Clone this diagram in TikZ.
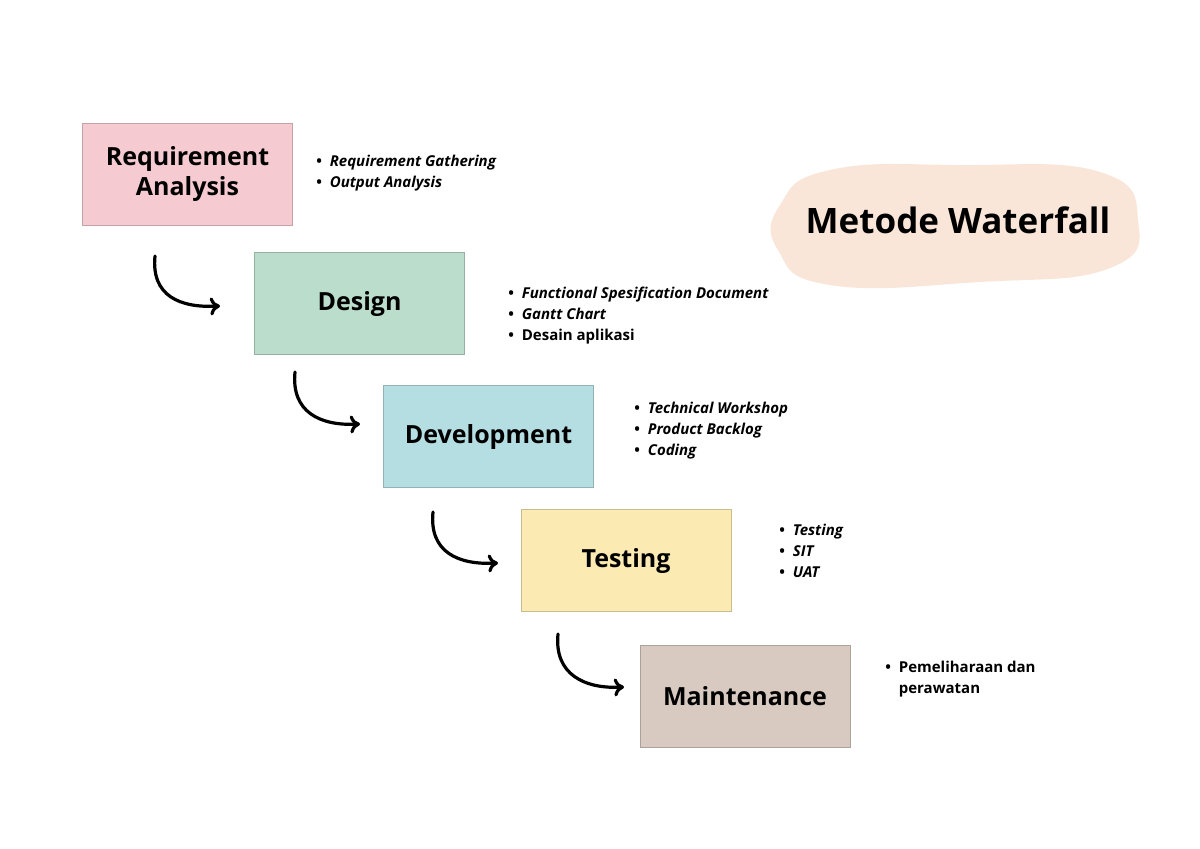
\documentclass[tikz,border=0pt]{standalone}
\usepackage{fontspec}
\setmainfont{Open Sans}
\usetikzlibrary{arrows.meta,shapes,positioning}
\definecolor{reqcol}{HTML}{F5CBD1}
\definecolor{descol}{HTML}{BBDDCB}
\definecolor{devcol}{HTML}{B5DEE3}
\definecolor{tstcol}{HTML}{FBEBB2}
\definecolor{mntcol}{HTML}{D8CAC0}
\definecolor{blobcol}{HTML}{F9E6D8}
\begin{document}
\begin{tikzpicture}[x=0.5pt,y=-0.5pt,
  phase/.style={draw=#1!80!black,fill=#1,line width=0.3pt,minimum width=105pt,minimum height=51pt,
    font=\fontsize{12.5}{15}\selectfont\bfseries,align=center,inner sep=0pt},
  items/.style={anchor=north west,align=left,font=\fontsize{7.5}{10.5}\selectfont\bfseries,inner sep=0pt},
  flow/.style={line width=1.6pt,line cap=round,-{To[length=5pt,width=9pt]}}]
  \useasboundingbox[fill=white] (0,0) rectangle (1200,848);
  % Background blob
  \fill[blobcol] plot[smooth cycle,tension=0.8] coordinates {(780,205) (830,170) (960,165) (1100,172) (1138,220) (1110,268) (980,282) (830,285) (778,250)};
  \node[font=\fontsize{17.5}{20}\selectfont\bfseries] (title) at (958,220) {Metode Waterfall};
  % Nodes: phases
  \node[phase=reqcol] (req) at (187.5,174) {Requirement\\Analysis};
  \node[phase=descol] (des) at (359.5,303.5) {Design};
  \node[phase=devcol] (dev) at (488.5,436.5) {Development};
  \node[phase=tstcol] (tst) at (626,560.5) {Testing};
  \node[phase=mntcol] (mnt) at (745,696) {Maintenance};
  % Nodes: item lists
  \node[items] (reqi) at (316,155) {\textbullet\ \ \textit{Requirement Gathering}\\\textbullet\ \ \textit{Output Analysis}};
  \node[items] (desi) at (508,287) {\textbullet\ \ \textit{Functional Spesification Document}\\\textbullet\ \ \textit{Gantt Chart}\\\textbullet\ \ Desain aplikasi};
  \node[items] (devi) at (634,402) {\textbullet\ \ \textit{Technical Workshop}\\\textbullet\ \ \textit{Product Backlog}\\\textbullet\ \ \textit{Coding}};
  \node[items] (tsti) at (779,524) {\textbullet\ \ \textit{Testing}\\\textbullet\ \ \textit{SIT}\\\textbullet\ \ \textit{UAT}};
  \node[items] (mnti) at (885,661) {\textbullet\ \ Pemeliharaan dan\\\phantom{\textbullet}\ \ perawatan};
  % Edges: hand drawn arrows
  \coordinate (a1) at (155,256); \coordinate (b1) at (220,306);
  \coordinate (a2) at (295,372); \coordinate (b2) at (360,424);
  \coordinate (a3) at (433,512); \coordinate (b3) at (498,563);
  \coordinate (a4) at (558,634); \coordinate (b4) at (624,687);
  \foreach \s/\e in {a1/b1,a2/b2,a3/b3,a4/b4}
    \draw[flow] (\s) .. controls ++(-4,40) and ++(-40,2) .. (\e);
\end{tikzpicture}
\end{document}
